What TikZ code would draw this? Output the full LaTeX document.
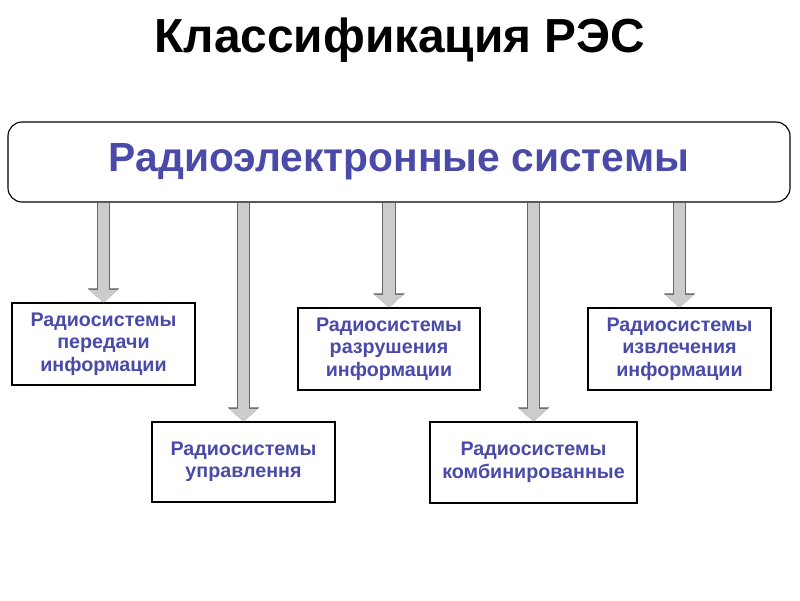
\documentclass[tikz,border=0pt]{standalone}
\usepackage{fontspec}
\setmainfont{Liberation Sans}
\usepackage{tikz}
\usetikzlibrary{arrows.meta, positioning, calc}
\definecolor{textblue}{HTML}{4A4AA8}

\begin{document}
\begin{tikzpicture}[x=0.025cm, y=-0.025cm]
\tikzstyle{system} = [rectangle, draw=black, thick, fill=white, align=center, font=\bfseries\fontsize{14}{16}\selectfont, text=textblue]
\tikzstyle{arrow} = [draw=gray!40, line width=8pt, -{Triangle[length=9pt,width=20pt]}, preaction={draw=gray!80!black, line width=9.5pt, -{Triangle[length=10pt,width=22pt]}}]

\useasboundingbox (0,0) rectangle (800,600);
\node[font=\bfseries\fontsize{34}{40}\selectfont] (title) at (400,40) {Классификация РЭС};

\node[draw=black, thick, rounded corners=10pt, minimum width=782*0.025cm, minimum height=80*0.025cm, font=\bfseries\fontsize{29}{34}\selectfont, text=textblue] (res) at (399,162) {Радиоэлектронные системы};

\node[system, minimum width=183*0.025cm, minimum height=82*0.025cm] (transfer) at (103.5,344) {Радиосистемы\\передачи\\информации};
\node[system, minimum width=183*0.025cm, minimum height=80*0.025cm] (control) at (243.5,462) {Радиосистемы\\управлення};
\node[system, minimum width=182*0.025cm, minimum height=82*0.025cm] (destroy) at (389,349) {Радиосистемы\\разрушения\\информации};
\node[system, minimum width=207*0.025cm, minimum height=81*0.025cm] (combined) at (533.5,462.5) {Радиосистемы\\комбинированные};
\node[system, minimum width=183*0.025cm, minimum height=82*0.025cm] (extract) at (679.5,349) {Радиосистемы\\извлечения\\информации};

\draw[arrow] (res.south -| transfer.north) -- (transfer.north);
\draw[arrow] (res.south -| control.north) -- (control.north);
\draw[arrow] (res.south -| destroy.north) -- (destroy.north);
\draw[arrow] (res.south -| combined.north) -- (combined.north);
\draw[arrow] (res.south -| extract.north) -- (extract.north);
\end{tikzpicture}
\end{document}
